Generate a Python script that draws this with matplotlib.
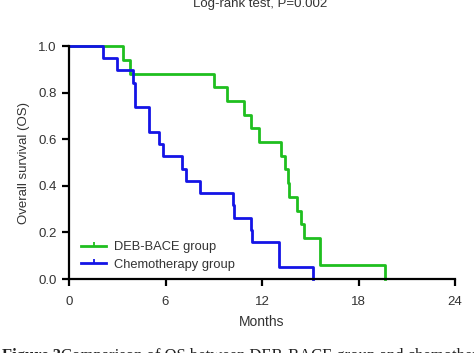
import matplotlib.pyplot as plt
from matplotlib.path import Path
from matplotlib.lines import Line2D

plt.rcParams['font.family'] = ['Liberation Sans', 'DejaVu Sans']

# Kaplan-Meier steps
deb_times = [0, 3.35, 3.8, 9.0, 9.8, 10.9, 11.3, 11.8, 13.2, 13.4, 13.6, 13.7, 14.15, 14.4, 14.6, 15.6, 19.65]
deb_surv = [1.0, 0.941, 0.882, 0.824, 0.765, 0.706, 0.647, 0.588, 0.529, 0.471, 0.412, 0.353, 0.294, 0.235, 0.176, 0.059, 0.0]

chemo_times = [0, 2.1, 3.0, 3.96, 4.1, 5.0, 5.6, 5.87, 7.0, 7.3, 8.15, 10.2, 10.27, 11.3, 11.4, 13.08, 15.2]
chemo_surv = [1.0, 0.947, 0.895, 0.842, 0.737, 0.632, 0.579, 0.526, 0.474, 0.421, 0.368, 0.316, 0.263, 0.211, 0.158, 0.053, 0.0]

x_ticks = [0, 6, 12, 18, 24]
y_ticks = [0.0, 0.2, 0.4, 0.6, 0.8, 1.0]

green = '#1fbf1f'
blue = '#1414e6'
txt = '#333333'

fig = plt.figure(figsize=(4.74, 3.53), dpi=100)
ax = fig.add_axes([0.1456, 0.2096, 0.8144, 0.66])

ax.step(deb_times, deb_surv, where='post', color=green, lw=2.0, clip_on=False)
ax.step(chemo_times, chemo_surv, where='post', color=blue, lw=2.0, clip_on=False)

ax.set_xlim(0, 24)
ax.set_ylim(0, 1.0)
ax.set_xticks(x_ticks)
ax.set_xticklabels([str(t) for t in x_ticks])
ax.set_yticks(y_ticks)
ax.set_yticklabels([f'{t:.1f}' for t in y_ticks])

for s in ['top', 'right']:
    ax.spines[s].set_visible(False)
for s in ['left', 'bottom']:
    ax.spines[s].set_linewidth(1.6)
    ax.spines[s].set_color('black')
ax.tick_params(direction='out', length=5, width=1.6, labelsize=9.5, labelcolor=txt, pad=4)
ax.tick_params(axis='x', pad=7)

ax.set_xlabel('Months', fontsize=10, color=txt, labelpad=5)
ax.set_ylabel('Overall survival (OS)', fontsize=9.5, color=txt, labelpad=6)

# legend handles with a small censor tick on the line
tick = Path([(0, 0), (0, 1)])
handles = [Line2D([], [], color=green, lw=2.0, marker=tick, markersize=6, markeredgewidth=1.3),
           Line2D([], [], color=blue, lw=2.0, marker=tick, markersize=6, markeredgewidth=1.3)]
leg = ax.legend(handles, ['DEB-BACE group', 'Chemotherapy group'], loc='lower left',
                bbox_to_anchor=(0.0, -0.015), frameon=False, fontsize=9.3, numpoints=1,
                handlelength=2.0, handletextpad=0.6, labelspacing=0.45)
for t in leg.get_texts():
    t.set_color(txt)

fig.text(0.549, 1 - 7 / 353, 'Log-rank test, P=0.002', ha='center', va='baseline',
         fontsize=9.5, color=txt)

fig.text(0.004, 1 - 348 / 353, 'Figure 3', ha='left', va='top', fontsize=12,
         family='Liberation Serif', weight='bold', color='#222222')
fig.text(0.128, 1 - 348 / 353, 'Comparison of OS between DEB-BACE group and chemotherapy group',
         ha='left', va='top', fontsize=12, family='Liberation Serif', color='#222222')

fig.savefig('out.png', dpi=100)
